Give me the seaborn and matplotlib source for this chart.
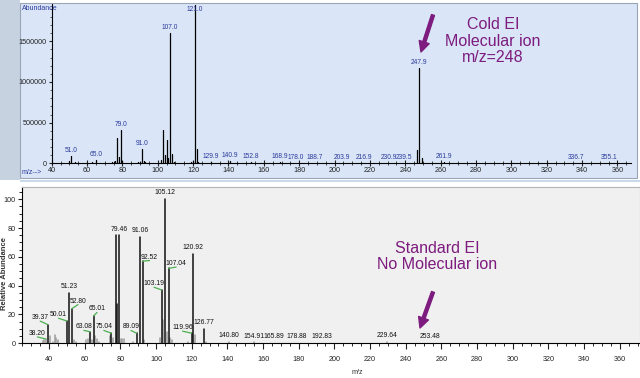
import pandas as pd
import matplotlib
matplotlib.use("Agg")
import matplotlib.pyplot as plt
from matplotlib.patches import Rectangle
from matplotlib.ticker import MultipleLocator
import seaborn as sns

# upper panel: Cold EI spectrum, raw abundance
cold_mz = [50, 51, 53, 63, 65, 74, 75, 76, 77, 78, 79, 80, 89, 90, 91, 92, 93,
           102, 103, 104, 105, 106, 107, 108, 109, 119, 120, 121, 122, 123,
           129.9, 140.9, 152.8, 168.9, 178.0, 188.7, 203.9, 216.9, 230.9, 239.5,
           246.5, 247.9, 249.7, 261.9, 336.7, 355.1]
cold_abund = [30000, 86000, 20000, 20000, 40000, 20000, 20000, 25000, 310000, 80000,
              410000, 30000, 20000, 20000, 176000, 30000, 20000,
              40000, 410000, 100000, 287000, 70000, 1598000, 120000, 20000,
              20000, 30000, 1950000, 176000, 20000,
              10000, 30000, 10000, 10000, 8000, 8000, 8000, 8000, 8000, 8000,
              160000, 1168000, 70000, 10000, 5000, 5000]
cold_labels = [51.0, 65.0, 79.0, 91.0, 107.0, 121.0, 129.9, 140.9, 152.8, 168.9,
               178.0, 188.7, 203.9, 216.9, 230.9, 239.5, 247.9, 261.9, 336.7, 355.1]

# lower panel: standard EI spectrum, relative abundance
std_mz = [36.5, 37.5, 38.20, 39.37, 40.6, 42.0, 43.3, 44.2, 45.1, 50.01, 51.23,
          52.80, 53.8, 55.0, 61.0, 62.0, 63.08, 64.0, 65.01, 66.0, 67.0, 68.0,
          74.0, 75.04, 76.0, 77.4, 78.4, 79.46, 80.4, 81.0, 82.0, 87.0, 89.09,
          91.06, 92.52, 93.5, 102.0, 103.19, 104.1, 105.12, 106.1, 107.04, 108.0,
          109.0, 118.0, 119.96, 120.92, 121.9, 126.77, 128.0, 140.80, 154.91,
          165.89, 178.88, 192.83, 229.64, 253.48]
std_abund = [1.5, 2, 3, 13, 5, 1, 6, 4, 2, 15.5, 35,
             24, 2, 1, 2, 3, 8, 2, 19, 5, 3, 1,
             5, 7, 4, 75, 27, 75, 3, 3, 3, 1, 7,
             74, 57, 2, 4, 37, 16, 100, 8, 52, 4,
             2, 1, 7, 62, 6, 10, 1, 1, 0.6,
             0.5, 0.5, 0.5, 1.2, 0.3]
std_labels = [38.20, 39.37, 50.01, 51.23, 52.80, 63.08, 65.01, 75.04, 79.46, 89.09,
              91.06, 92.52, 103.19, 105.12, 107.04, 119.96, 120.92, 126.77, 140.80,
              154.91, 165.89, 178.88, 192.83, 229.64, 253.48]
# labels pushed beside their peak with a green leader (dx, dy in points)
std_leader = {38.20: (-6, 4), 39.37: (-5.5, 5), 50.01: (-6, 4.5), 52.80: (4.5, 5.5),
              63.08: (-4.5, 3.5), 65.01: (2.5, 5), 75.04: (-5.5, 4.5), 89.09: (-4, 4.5),
              92.52: (5, 3), 103.19: (-5.5, 4.5), 107.04: (5.5, 3.5), 119.96: (-6.5, 4)}

PURPLE = "#7d1b7e"
NAVY = "#2b3a9c"
GREEN = "#4caf50"


def stick_frame(mz, ab, dark=None):
    rows = []
    for i, (m, a) in enumerate(zip(mz, ab)):
        tone = "dark" if dark is None or dark(m, a) else "light"
        rows.append({"peak": i, "mz": m, "ab": 0.0, "tone": tone})
        rows.append({"peak": i, "mz": m, "ab": a, "tone": tone})
    return pd.DataFrame(rows)


sns.set_style("ticks")
plt.rcParams["font.family"] = ["Liberation Sans", "DejaVu Sans"]

fig = plt.figure(figsize=(6.4, 3.78), dpi=100)
fig.patch.set_facecolor("white")

# window backgrounds
W, H = 640, 378
fig.add_artist(Rectangle((0, 1 - 180 / H), 20 / W, 180 / H, transform=fig.transFigure,
                         facecolor="#c6d2e0", edgecolor="none", zorder=-2))
fig.add_artist(Rectangle((20 / W, 1 - 178 / H), 617 / W, 175 / H, transform=fig.transFigure,
                         facecolor="#dae6f7", edgecolor="#9aa6b6", lw=0.8, zorder=-1))
fig.add_artist(Rectangle((20 / W, 1 - 182 / H), 620 / W, 1.5 / H, transform=fig.transFigure,
                         facecolor="#c9d9ec", edgecolor="none", zorder=-1))

# ---------- upper: cold EI ----------
ax1 = fig.add_axes([51.7 / W, 1 - 163.3 / H, 579 / W, 159.3 / H])
ax1.set_facecolor("none")
df1 = stick_frame(cold_mz, cold_abund)
sns.lineplot(data=df1, x="mz", y="ab", units="peak", estimator=None, color="black",
             lw=0.9, ax=ax1, legend=False)
ymax1 = 1959000
ax1.set_xticks(range(40, 361, 20))
ax1.set_yticks(range(0, 1500001, 500000))
ax1.set_xlim(40, 367.5)
ax1.set_ylim(0, ymax1)
ax1.set_xlabel("")
ax1.set_ylabel("")
ax1.xaxis.set_minor_locator(MultipleLocator(5))
ax1.yaxis.set_minor_locator(MultipleLocator(100000))
ax1.ticklabel_format(style="plain", axis="y")
ax1.tick_params(axis="x", which="major", direction="inout", length=4, width=0.8,
                labelsize=5.2, pad=1, colors="#222222")
ax1.tick_params(axis="x", which="minor", direction="inout", length=3, width=0.6)
ax1.tick_params(axis="y", which="major", direction="out", length=2.5, width=0.8,
                labelsize=5.2, pad=1, colors="#222222")
ax1.tick_params(axis="y", which="minor", direction="out", length=1.2, width=0.5)
for s in ["top", "right"]:
    ax1.spines[s].set_visible(False)
for s in ["left", "bottom"]:
    ax1.spines[s].set_linewidth(0.8)
    ax1.spines[s].set_color("black")

for lab in cold_labels:
    i = min(range(len(cold_mz)), key=lambda k: abs(cold_mz[k] - lab))
    h = min(cold_abund[i], ymax1 * 0.93)
    ax1.annotate(f"{lab:.1f}", xy=(lab, h), xytext=(0, 1.5), textcoords="offset points",
                 ha="center", va="bottom", fontsize=4.8, color=NAVY)

fig.text(22 / W, 1 - 8 / H, "Abundance", fontsize=5, color=NAVY, ha="left", va="center")
fig.text(22 / W, 1 - 173 / H, "m/z-->", fontsize=5, color=NAVY, ha="left", va="center")

fig.text(493 / W, 1 - 41 / H, "Cold EI\nMolecular ion\nm/z=248", ha="center", va="center",
         color=PURPLE, fontsize=11.5, linespacing=1.15)
ax1.annotate("", xy=(421 / W, 1 - 52 / H), xytext=(433 / W, 1 - 15 / H),
             xycoords="figure fraction", textcoords="figure fraction",
             arrowprops=dict(arrowstyle="simple,head_length=0.75,head_width=0.75,tail_width=0.22",
                             color=PURPLE, mutation_scale=10, shrinkA=0, shrinkB=0))

# ---------- lower: standard EI ----------
ax2 = fig.add_axes([22 / W, 1 - 343.3 / H, 618 / W, 156.6 / H])
ax2.set_facecolor("#f0f0f0")
df2 = stick_frame(std_mz, std_abund, dark=lambda m, a: a >= 20 or m in std_labels and a >= 7)
sns.lineplot(data=df2, x="mz", y="ab", units="peak", estimator=None, hue="tone",
             palette={"dark": "#111111", "light": "#9c9c9c"}, lw=1.1, ax=ax2, legend=False)
ax2.set_xticks(range(40, 361, 20))
ax2.set_yticks(range(0, 101, 20))
ax2.set_xlim(24.9, 371.3)
ax2.set_ylim(0, 108.7)
ax2.set_xlabel("")
ax2.set_ylabel("")
ax2.xaxis.set_minor_locator(MultipleLocator(5))
ax2.yaxis.set_minor_locator(MultipleLocator(5))
ax2.tick_params(axis="x", which="major", direction="out", length=4, width=0.8,
                labelsize=5.2, pad=5, colors="#222222")
ax2.tick_params(axis="x", which="minor", direction="out", length=2.5, width=0.7)
ax2.tick_params(axis="y", which="major", direction="out", length=3, width=0.8,
                labelsize=5.2, pad=1.5, colors="#222222")
ax2.tick_params(axis="y", which="minor", direction="out", length=2, width=0.7)
for s in ["top", "right"]:
    ax2.spines[s].set_color("#b4b4b4")
    ax2.spines[s].set_linewidth(0.8)
for s in ["left", "bottom"]:
    ax2.spines[s].set_color("black")
    ax2.spines[s].set_linewidth(0.8)

for lab in std_labels:
    i = min(range(len(std_mz)), key=lambda k: abs(std_mz[k] - lab))
    h = std_abund[i]
    if lab in std_leader:
        dx, dy = std_leader[lab]
        ax2.annotate(f"{lab:.2f}", xy=(lab, h), xytext=(dx, dy), textcoords="offset points",
                     ha="center", va="center", fontsize=4.9, color="#111111",
                     arrowprops=dict(arrowstyle="-", color=GREEN, lw=0.9, patchA=None,
                                     shrinkA=0, shrinkB=0, relpos=(0.5, 0)))
    else:
        ax2.annotate(f"{lab:.2f}", xy=(lab, h), xytext=(0, 4.5), textcoords="offset points",
                     ha="center", va="center", fontsize=4.9, color="#111111")

fig.text(5 / W, 1 - 274 / H, "Relative Abundance", rotation=90, ha="center", va="center",
         fontsize=5.5, fontweight="bold", color="#333333")
fig.text(357 / W, 1 - 372 / H, "m/z", ha="center", va="center", fontsize=5.2, color="#333333")

fig.text(437 / W, 1 - 256.5 / H, "Standard EI\nNo Molecular ion", ha="center", va="center",
         color=PURPLE, fontsize=11.5, linespacing=1.15)
ax2.annotate("", xy=(420 / W, 1 - 328 / H), xytext=(433 / W, 1 - 292 / H),
             xycoords="figure fraction", textcoords="figure fraction",
             arrowprops=dict(arrowstyle="simple,head_length=0.75,head_width=0.75,tail_width=0.22",
                             color=PURPLE, mutation_scale=10, shrinkA=0, shrinkB=0))

fig.savefig("out.png", dpi=100)
